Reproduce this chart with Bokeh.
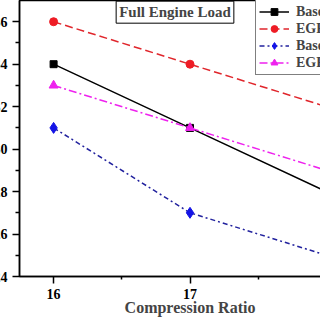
from bokeh.plotting import figure
from bokeh.models import Legend, LegendItem, Label, FixedTicker, Range1d
from bokeh.embed import file_html
from bokeh.resources import INLINE

# ---- data ----
compression_ratio = [16, 17, 18]
base_a = [34, 31, 28]
egr_a = [36, 34, 32]
base_b = [31, 27, 25]
egr_b = [33, 31, 29]
series_labels = ["Base CO", "EGR CO", "Base HC", "EGR HC"]
x_ticks = [16, 17, 18]
x_minor = [16.5, 17.5]
y_ticks = [24, 26, 28, 30, 32, 34, 36]
y_minor = [25, 27, 29, 31, 33, 35]
title_text = "Full Engine Load"
x_label = "Compression Ratio"

FONT = "Liberation Serif"

p = figure(frame_width=341, frame_height=276,
           x_range=Range1d(15.75, 18.25), y_range=Range1d(24, 37),
           output_backend="svg", toolbar_location=None,
           min_border_left=0, min_border_right=0, min_border_top=0, min_border_bottom=0)
p.styles = {"margin-left": "-10px"}
p.background_fill_color = "white"
p.border_fill_color = "white"
p.xgrid.visible = False
p.ygrid.visible = False
p.outline_line_color = "black"
p.outline_line_width = 1.5

styles = [
    dict(color="black", marker="square", mcolor="black", size=7, dash="solid"),
    dict(color="#e0262c", marker="circle", mcolor="#ee1c25", size=8, dash="8 4"),
    dict(color="#22229e", marker="diamond", mcolor="#1414e6", size=11, dash="5 3 2 3"),
    dict(color="#ee22ee", marker="triangle", mcolor="#ee22ee", size=9, dash="8 3 2 3"),
]
data = [base_a, egr_a, base_b, egr_b]
items = []
for ys, st, lab in zip(data, styles, series_labels):
    lr = p.line(compression_ratio, ys, line_color=st["color"], line_width=1.5, line_dash=st["dash"])
    sr = p.scatter(compression_ratio, ys, marker=st["marker"], size=st["size"],
                   fill_color=st["mcolor"], line_color=st["mcolor"])
    items.append(LegendItem(label=lab, renderers=[lr, sr]))

legend = Legend(items=items, location=(236, 201), margin=0, padding=3, spacing=0,
                glyph_width=30, glyph_height=17, label_height=17, label_standoff=7,
                label_text_font=FONT, label_text_font_style="bold", label_text_font_size="14px",
                border_line_color="black", border_line_width=1, background_fill_alpha=1)
p.add_layout(legend)

title = Label(x=16.89, y=36.45, text=title_text, text_align="center", text_baseline="middle",
              text_font=FONT, text_font_style="bold", text_font_size="15px",
              border_line_color="black", border_line_width=1, background_fill_color="white",
              padding=3)
p.add_layout(title)

for ax in (p.xaxis[0], p.yaxis[0]):
    ax.axis_line_width = 1.5
    ax.major_tick_line_width = 1.5
    ax.minor_tick_line_width = 1.5
    ax.major_tick_in = 0
    ax.minor_tick_in = 0
    ax.major_label_text_font = FONT
    ax.major_label_text_font_style = "bold"
    ax.major_label_text_font_size = "14px"
    ax.major_label_text_color = "black"

p.xaxis.ticker = FixedTicker(ticks=x_ticks, minor_ticks=x_minor)
p.yaxis.ticker = FixedTicker(ticks=y_ticks, minor_ticks=y_minor)
p.xaxis.major_tick_out = 7
p.xaxis.minor_tick_out = 3
p.yaxis.major_tick_out = 7
p.yaxis.minor_tick_out = 4
p.xaxis.major_label_standoff = 5
p.yaxis.major_label_standoff = 5
p.xaxis.axis_label = x_label
p.xaxis.axis_label_text_font = FONT
p.xaxis.axis_label_text_font_style = "bold"
p.xaxis.axis_label_text_font_size = "16px"
p.xaxis.axis_label_standoff = -3

open("out.html", "w").write(file_html(p, INLINE))
